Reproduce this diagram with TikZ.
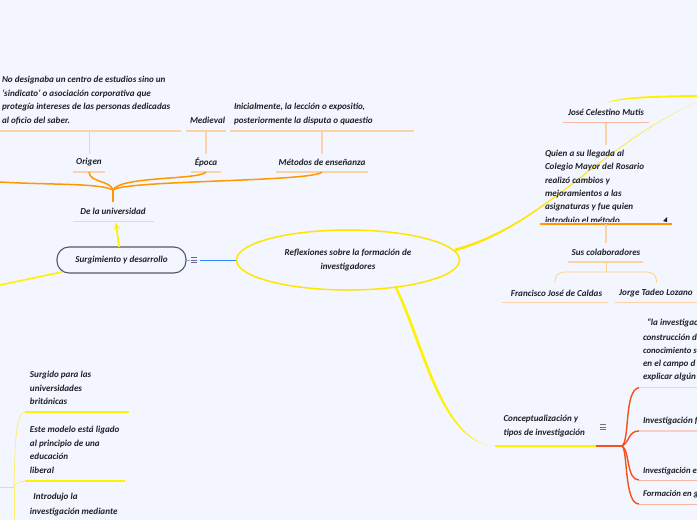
\documentclass[tikz,border=0pt]{standalone}
\usepackage{fontspec}
\setmainfont{Carlito}
\usetikzlibrary{arrows.meta,shapes.geometric}
\definecolor{bgc}{HTML}{F3F6FE}
\definecolor{ylw}{HTML}{FFE600}
\definecolor{pureY}{HTML}{FFF200}
\definecolor{org}{HTML}{FF9800}
\definecolor{pale}{HTML}{FBD3A8}
\definecolor{salm}{HTML}{F9B8A0}
\definecolor{redo}{HTML}{F4511E}
\definecolor{pink}{HTML}{F6CFC8}
\definecolor{ink}{HTML}{1E2028}
\tikzset{
 x=1pt,y=-1pt,
 lbl/.style={inner sep=0pt,outer sep=0pt,text=ink,font=\fontsize{9.1}{13.4}\selectfont\itshape\bfseries,anchor=west},
 nlbl/.style={lbl,font=\fontsize{8.7}{13.4}\selectfont\itshape\bfseries},
 clbl/.style={lbl,anchor=center,align=center},
 under/.style={line width=1.2pt,draw=pale},
 menuicon/.pic={\foreach \d in {-2.5,0,2.5}{\draw[line width=.8pt,#1] (-3,\d)--(3,\d);}},
}
\begin{document}
\begin{tikzpicture}
\useasboundingbox[fill=bgc] (0,0) rectangle (697,520);
\coordinate (leftA) at (0,182);
\coordinate (hub) at (113,190);
\coordinate (hubB) at (113,202);
\node[clbl] (uni) at (113,211) {De la universidad};
\node[clbl] (ori) at (89,162) {Origen};
\node[clbl] (epo) at (206,162) {Época};
\node[clbl] (met) at (322,162) {Métodos de enseñanza};
\coordinate (oriB) at (89,172); \coordinate (epoB) at (206,172); \coordinate (metB) at (322,172);
\coordinate (oriT) at (89.5,131); \coordinate (epoT) at (206,131); \coordinate (metT) at (322,131);
\coordinate (oriU) at (89.5,154); \coordinate (epoU) at (206,154); \coordinate (metU) at (322,154);
\node[lbl,align=left,anchor=north west] (t1) at (2,76.5) {No designaba un centro de estudios sino un\\‘sindicato’ o asociación corporativa que\\protegía intereses de las personas dedicadas\\al oficio del saber.};
\node[lbl] (t2) at (190,120) {Medieval};
\node[lbl,align=left,anchor=north west] (t3) at (234,103.5) {Inicialmente, la lección o expositio,\\posteriormente la disputa o quaestio};
\draw[under] (0,131)--(181,131);
\draw[under] (186,131)--(226,131);
\draw[under] (230,131)--(414,131);
\draw[under] (oriT)--(oriU); \draw[under] (epoT)--(epoU); \draw[under] (metT)--(metU);
\draw[under] (73,172)--(105,172);
\draw[under] (191,172)--(221,172);
\draw[under] (276,172)--(368,172);
\draw[org,line width=1.5pt] (oriB) .. controls (90,183) and (110,180) .. (hub);
\draw[org,line width=1.5pt] (epoB) .. controls (200,180) and (120,176) .. (hub);
\draw[org,line width=1.5pt] (metB) .. controls (312,182) and (125,180) .. (hub);
\draw[org,line width=1.5pt] (leftA) .. controls (50,185) and (100,183) .. (hub);
\draw[org,line width=2.4pt] (hub)--(hubB);
\draw[pureY,line width=1.8pt] (73,221.5)--(154,221.5);
\node[draw=ylw,line width=1.5pt,ellipse,minimum width=223pt,minimum height=60pt,inner sep=0pt] (root) at (348,260) {};
\node[clbl] at (348,260) {Reflexiones sobre la formación de\\investigadores};
\node[draw=ink!75,line width=1.1pt,rounded corners=12pt,minimum width=129pt,minimum height=26pt,inner sep=0pt,fill=bgc,font=\fontsize{9.1}{13}\selectfont\itshape\bfseries,text=ink] (sur) at (121.5,260) {Surgimiento y desarrollo};
\coordinate (ico) at (194,260);
\pic[color=gray!80!blue] at (ico) {menuicon};
\draw[color=blue!60!cyan!80,line width=.9pt] (200,260)--(root.west);
\draw[color=blue!40,line width=.5pt] (sur.east)--(190,260);
\draw[pureY,line width=1.8pt,-{Stealth[length=7pt,width=6pt]}] (119,247)--(116,222.5);
\draw[pureY,line width=1.6pt] (62,272)--(0,285);
\coordinate (rr1) at (455,250);
\coordinate (rr2) at (697,102);
\fill[ylw] (454.5,248.7) .. controls (545,224.5) and (600,145) .. (rr2) .. controls (600,146) and (545,225.7) .. (455.5,251.3) -- cycle;
\coordinate (jm) at (606,103);
\coordinate (jmR) at (697,96);
\fill[pureY] (jm) .. controls (620,96) and (660,95.5) .. (697,95) -- (697,97.2) .. controls (660,97.5) and (622,98) .. (jm) -- cycle;
\coordinate (rb) at (396,288);
\coordinate (concL) at (495,446);
\fill[pureY] (395.1,288.5) .. controls (422,345) and (440,443) .. (concL) .. controls (443,443) and (425,344) .. (397.2,287.5) -- cycle;
\node[clbl] (mut) at (606,112) {José Celestino Mutis};
\draw[line width=1pt,draw=salm] (563,122.5)--(649,122.5);
\coordinate (mutB) at (606,123); \coordinate (mutU) at (606,145);
\draw[under] (mutB)--(mutU);
\begin{scope}
\clip (530,140) rectangle (680,221);
\node[lbl,align=left,anchor=north west] (qui) at (545,150) {Quien a su llegada al\\Colegio Mayor del Rosario\\realizó cambios y\\mejoramientos a las\\asignaturas y fue quien\\introdujo el método};
\end{scope}
\fill[ink] (667,222)--(667,217)--(663,221)--cycle;
\draw[org,line width=2pt] (540,224)--(672,224);
\coordinate (ob) at (606,224); \coordinate (obU) at (606,243);
\draw[under] (ob)--(obU);
\node[clbl] (col) at (606,252) {Sus colaboradores};
\draw[under] (568,262)--(643,262);
\coordinate (colB) at (606,262); \coordinate (br) at (606,272);
\draw[org!45,line width=1pt] (colB)--(br);
\coordinate (frT) at (555,283); \coordinate (joT) at (656.5,283);
\draw[org!45,line width=.8pt] (frT) .. controls (555,275) and (558,272) .. (566,272) -- (645,272) .. controls (654,272) and (656.5,275) .. (joT);
\node[clbl] (fra) at (556.5,293) {Francisco José de Caldas};
\node[clbl] (jor) at (656,293) {Jorge Tadeo Lozano};
\draw[under] (502,302.5)--(608,302.5);
\draw[under] (615,302.5)--(697,302.5);
\node[lbl,align=left,anchor=north west] (con) at (503.5,415.5) {Conceptualización y\\tipos de investigación};
\draw[pureY,line width=1.8pt] (concL)--(596,446);
\coordinate (hubC) at (622,446);
\draw[redo,line width=2.2pt] (596,446)--(hubC);
\pic[color=gray!90!black] at (603,427) {menuicon};
\coordinate (b1) at (639,387.7); \coordinate (b2) at (639,431); \coordinate (b3) at (639,480); \coordinate (b4) at (639,504);
\draw[redo,line width=1.4pt] (hubC) .. controls (630,440) and (624,390) .. (b1);
\draw[redo,line width=1.4pt] (hubC) .. controls (630,442) and (628,431) .. (b2);
\draw[redo,line width=1.4pt] (hubC) .. controls (630,450) and (626,480) .. (b3);
\draw[redo,line width=1.4pt] (hubC) .. controls (628,450) and (624,504) .. (b4);
\draw[pink,line width=1.2pt] (b1)--(697,387.7);
\draw[pink,line width=1.2pt] (b2)--(697,431);
\draw[salm,line width=.8pt] (b3)--(697,480);
\draw[salm,line width=.8pt] (b4)--(697,504);
\node[lbl] (v1) at (647,323) {“la investigac};
\node[lbl] (v2) at (643,337) {construcción d};
\node[nlbl] (v3) at (643,350) {conocimiento s};
\node[lbl] (v4) at (643,364) {en el campo d};
\node[lbl] (v5) at (643,377) {explicar algún};
\node[lbl] (v6) at (643,421) {Investigación f};
\node[nlbl] (v7) at (643,471) {Investigación e};
\node[nlbl] (v8) at (643,494) {Formación en g};
\node[lbl,align=left,anchor=north west] (s1) at (30,371.5) {Surgido para las\\universidades\\británicas};
\draw[pureY,line width=1.8pt] (25,412)--(129,412);
\node[lbl,align=left,anchor=north west] (s2) at (30,426.5) {Este modelo está ligado\\al principio de una\\educación\\liberal};
\draw[pureY,line width=1.8pt] (25,481)--(125,481);
\node[lbl] (s3a) at (33.5,497) {Introdujo la};
\node[lbl] (s3b) at (30,512) {investigación mediante};
\coordinate (lh) at (14,487);
\draw[pale,line width=.7pt] (0,487)--(lh);
\draw[ylw!60,line width=.7pt] (lh) .. controls (15,450) and (15,412) .. (25,412);
\draw[ylw!60,line width=.7pt] (lh) .. controls (15,485) and (18,481) .. (25,481);
\draw[ylw!60,line width=.7pt] (lh)--(14,520);
\end{tikzpicture}
\end{document}
